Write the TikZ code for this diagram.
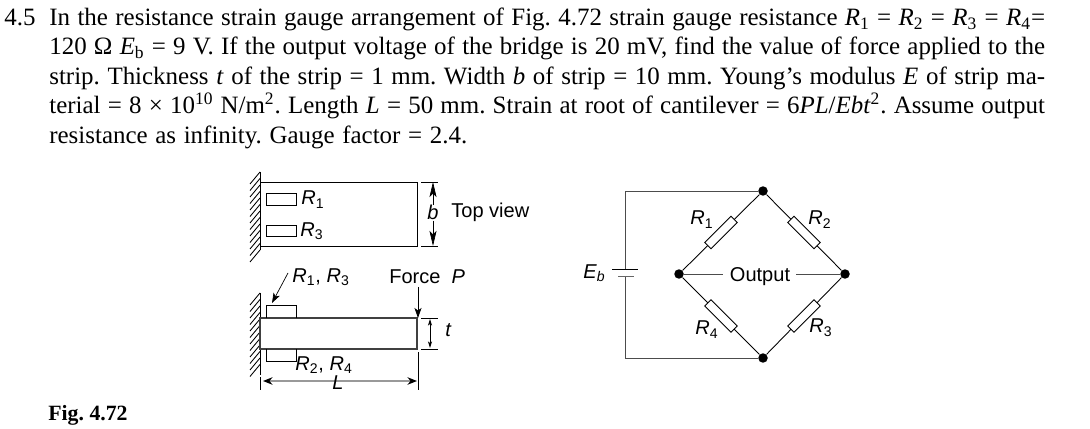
\documentclass[tikz,border=0pt]{standalone}
\usepackage{fontspec}
\setmainfont{Liberation Serif}
\setsansfont{Liberation Sans}
\usetikzlibrary{arrows.meta}
\newcommand{\rsub}[1]{\textit{R}\textsubscript{#1}}
\newcommand{\txtline}[2]{\makebox[#1][s]{#2}}
\tikzset{
	bigtip/.tip={Stealth[length=3mm,width=1.4mm,inset=0.7mm]},
	midtip/.tip={Stealth[length=2mm,width=1.4mm,inset=0.5mm]},
	lentip/.tip={Stealth[black,length=1.9mm,width=1.5mm,inset=0.6mm]},
	smalltip/.tip={Stealth[length=1.3mm,width=0.8mm,inset=0.3mm]},
	txt/.style={inner sep=0pt,anchor=base west,font=\fontsize{14.2}{17}\selectfont},
	lab/.style={inner sep=0pt,anchor=base west,font=\fontsize{11.4}{13}\selectfont\sffamily},
	dot/.style={circle,fill=black,inner sep=0pt,minimum size=0.19cm},
	res/.style={draw,fill=white,inner sep=0pt,line width=0.5pt,minimum width=0.74cm,minimum height=0.18cm},
	hatch/.style={line width=0.5pt},
	part/.style={line width=0.5pt},
	wire/.style={line width=0.5pt},
}
\begin{document}
\frenchspacing
\begin{tikzpicture}[>=latex,x=0.02cm,y=-0.02cm]
	\useasboundingbox (0,0) rectangle (1090,429);

	\node[txt] (num) at (4,26){4.5};
	\node[txt] (line1) at (49,26){\txtline{19.92cm}{In the resistance strain gauge arrangement of Fig. 4.72 strain gauge resistance \textit{R}\textsubscript{1} = \textit{R}\textsubscript{2} = \textit{R}\textsubscript{3} = \textit{R}\textsubscript{4}=}};
	\node[txt] (line2) at (49,55){\txtline{19.92cm}{120 Ω \textit{E}\textsubscript{b} = 9 V. If the output voltage of the bridge is 20 mV, find the value of force applied to the}};
	\node[txt] (line3) at (49,84.5){\txtline{19.92cm}{strip. Thickness \textit{t} of the strip = 1 mm. Width \textit{b} of strip = 10 mm. Young’s modulus \textit{E} of strip ma-}};
	\node[txt] (line4) at (49,114){\txtline{19.92cm}{terial = 8 × 10\textsuperscript{10} N/m\textsuperscript{2}. Length \textit{L} = 50 mm. Strain at root of cantilever = 6\textit{PL}/\textit{Ebt}\textsuperscript{2}. Assume output}};
	\node[txt] (line5) at (49,143.5){\txtline{8.36cm}{resistance as infinity. Gauge factor = 2.4.}};
	\node[txt,font=\fontsize{12.4}{15}\selectfont\bfseries] (figno) at (48,420){Fig. 4.72};

	% top view
	\draw[part] (260,172)--(260,250);
	\draw[part] (260,182) rectangle (417,246);
	\foreach \y in {172,178.5,...,251}
		\draw[hatch] (260,\y)--(250,\y+12);
	\draw[part] (266,193) rectangle (296,205);
	\draw[part] (266,225) rectangle (296,236);
	\node[lab] (topr1) at (301,205){\rsub{1}};
	\node[lab] (topr3) at (300,236){\rsub{3}};
	\draw[part] (421,182)--(438,182);
	\draw[part] (421,246)--(438,246);
	\node[lab,anchor=base] (wb) at (433,220){\textit{b}};
	\draw[-bigtip] (wb.north)--(433,182);
	\draw[-bigtip] (wb.south)--(433,246);
	\node[lab] (topview) at (451,218){Top view};

	% side view
	\node[lab] (sr13) at (292,282){\rsub{1}, \rsub{3}};
	\node[lab] (force) at (389,283){Force \ \textit{P}};
	\draw[part] (260,293)--(260,375);
	\draw[part] (260,377)--(260,390);
	\foreach \y in {293,299.5,...,366}
		\draw[hatch] (260,\y)--(250,\y+12);
	\draw[line width=0.8pt,black!75] (260,318) rectangle (417,349);
	\draw[part] (266,318)--(266,305)--(296,305)--(296,318);
	\draw[part] (266,349)--(266,361)--(296,361)--(296,349);
	\draw[-midtip] (288,273)--(272,303);
	\draw[-midtip] (418,287)--(418,318);
	\draw[part] (421,318)--(438,318);
	\draw[part] (421,349)--(438,349);
	\draw[smalltip-smalltip,part] (430,319)--(430,348);
	\node[lab] (st) at (445,337){\textit{t}};
	\node[lab] (sr24) at (295,370){\rsub{2}, \rsub{4}};
	\draw[part] (418,352)--(418,390);
	\draw[lentip-lentip,black!40,line width=0.7pt] (263,381)--(417,381);
	\node[lab,anchor=base] (sl) at (338,389){\textit{L}};

	% bridge
	\node[dot] (top) at (763,191){};
	\node[dot] (left) at (679,274){};
	\node[dot] (right) at (845,274){};
	\node[dot] (bottom) at (763,358){};
	\draw[wire] (top)--(left);
	\draw[wire] (top)--(right);
	\draw[wire] (bottom)--(left);
	\draw[wire] (bottom)--(right);
	\node[res,rotate=45] (r1) at (721,232.5){};
	\node[res,rotate=-45] (r2) at (804,232.5){};
	\node[res,rotate=45] (r3) at (804,316){};
	\node[res,rotate=-45] (r4) at (721,316){};
	\node[lab] (lr1) at (690,225){\rsub{1}};
	\node[lab] (lr2) at (808,225){\rsub{2}};
	\node[lab] (lr3) at (809,333){\rsub{3}};
	\node[lab] (lr4) at (695,335){\rsub{4}};
	\node[lab,anchor=base] (output) at (760,281){Output};
	\draw[wire,black!70] (left)--(723,274);
	\draw[wire,black!70] (796,274)--(right);
	\coordinate (platea) at (625,269);
	\coordinate (plateb) at (625,276);
	\draw[wire,black!70] (top)-|(platea);
	\draw[wire,black!70] (bottom)-|(plateb);
	\draw[wire] (612,269)--(638,269);
	\draw[wire,black!60] (618,276)--(634,276);
	\node[lab] (eb) at (583,278){\textit{E}\textsubscript{\textit{b}}};
\end{tikzpicture}
\end{document}
